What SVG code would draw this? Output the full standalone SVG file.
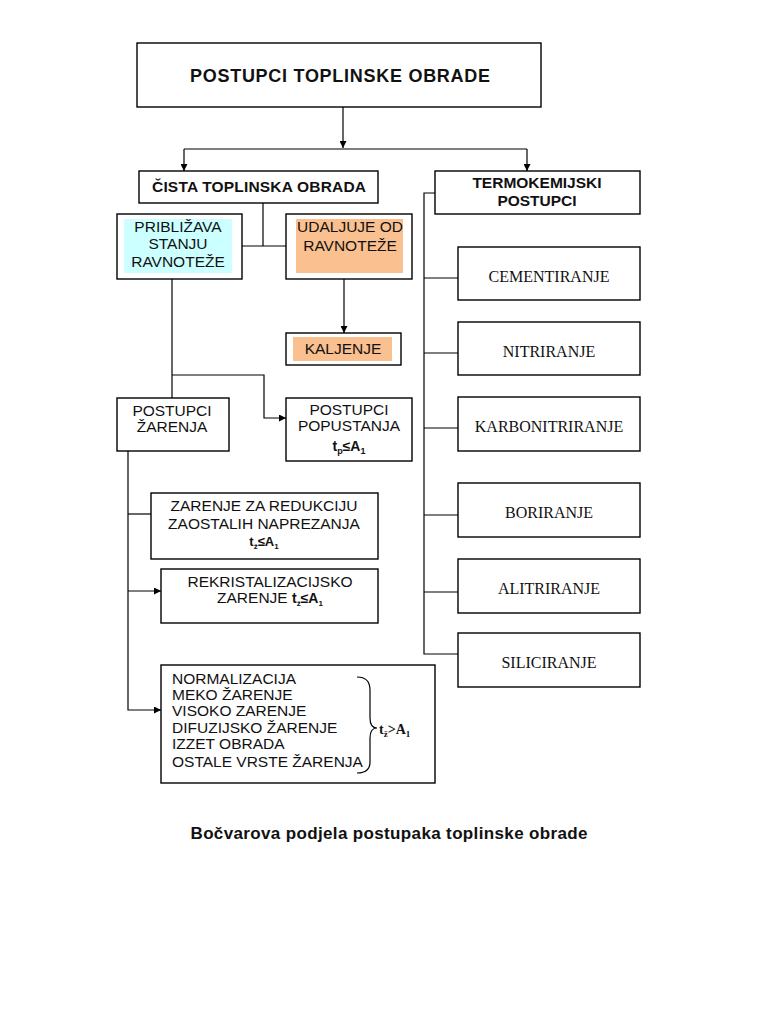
<svg xmlns="http://www.w3.org/2000/svg" width="768" height="1024" viewBox="0 0 768 1024">
<defs>
<marker id="arr" viewBox="0 0 10 10" refX="10" refY="5" markerWidth="7" markerHeight="7" markerUnits="userSpaceOnUse" orient="auto">
<path d="M0,0 L10,5 L0,10 z" fill="#000"/>
</marker>
<style>
.box{fill:#fff;stroke:#000;stroke-width:1.4}
.ln{fill:none;stroke:#000;stroke-width:1.2}
.sans{font-family:"Liberation Sans",Arial,sans-serif;fill:#111}
.c{text-anchor:middle}
.b{font-weight:bold}
.t15{font-size:15.5px}
.serif{font-family:"Liberation Serif","Times New Roman",serif;font-size:16px;fill:#111;text-anchor:middle}
</style>
</defs>
<rect width="768" height="1024" fill="#fff"/>

<g id="connectors">
<line class="ln" x1="343" y1="107" x2="343" y2="148" marker-end="url(#arr)"/>
<line class="ln" x1="184" y1="149" x2="527" y2="149"/>
<line class="ln" x1="184" y1="149" x2="184" y2="171" marker-end="url(#arr)"/>
<line class="ln" x1="527" y1="149" x2="527" y2="171" marker-end="url(#arr)"/>
<line class="ln" x1="263" y1="203" x2="263" y2="246"/>
<line class="ln" x1="242" y1="246" x2="286" y2="246"/>
<line class="ln" x1="344" y1="279" x2="344" y2="333" marker-end="url(#arr)"/>
<line class="ln" x1="172" y1="279" x2="172" y2="398"/>
<polyline class="ln" points="172,375 264,375 264,418 286,418" marker-end="url(#arr)"/>
<polyline class="ln" points="128,451 128,710 161,710" marker-end="url(#arr)"/>
<line class="ln" x1="128" y1="514" x2="151" y2="514"/>
<line class="ln" x1="128" y1="591" x2="161" y2="591" marker-end="url(#arr)"/>
<polyline class="ln" points="435,193 424,193 424,654 458,654"/>
<line class="ln" x1="424" y1="278" x2="458" y2="278"/>
<line class="ln" x1="424" y1="353" x2="458" y2="353"/>
<line class="ln" x1="424" y1="428" x2="458" y2="428"/>
<line class="ln" x1="424" y1="515" x2="458" y2="515"/>
<line class="ln" x1="424" y1="592" x2="458" y2="592"/>
</g>

<g id="n-root">
<rect class="box" x="137" y="43" width="404" height="64"/>
<text class="sans c b" x="340" y="82" font-size="18" textLength="300" lengthAdjust="spacing">POSTUPCI TOPLINSKE OBRADE</text>
</g>

<g id="n-cista">
<rect class="box" x="139" y="171" width="239" height="32"/>
<text class="sans c b t15" x="259" y="192" textLength="214" lengthAdjust="spacing">ČISTA TOPLINSKA OBRADA</text>
</g>

<g id="n-termo">
<rect class="box" x="435" y="171" width="205" height="43"/>
<text class="sans c b t15" x="537" y="188">TERMOKEMIJSKI</text>
<text class="sans c b t15" x="537" y="206">POSTUPCI</text>
</g>

<g id="n-priblizava">
<rect class="box" x="117" y="214" width="125" height="65"/>
<rect x="124" y="219" width="108" height="54" fill="#ccffff"/>
<text class="sans c t15" x="178" y="232">PRIBLIŽAVA</text>
<text class="sans c t15" x="178" y="249">STANJU</text>
<text class="sans c t15" x="178" y="267">RAVNOTEŽE</text>
</g>

<g id="n-udaljuje">
<rect class="box" x="286" y="214" width="126" height="65"/>
<rect x="296" y="219" width="107" height="54" fill="#fac090"/>
<text class="sans c t15" x="350" y="232">UDALJUJE OD</text>
<text class="sans c t15" x="350" y="251">RAVNOTEŽE</text>
</g>

<g id="n-kaljenje">
<rect class="box" x="286" y="333" width="115" height="32"/>
<rect x="293" y="337" width="99" height="24" fill="#fac090"/>
<text class="sans c t15" x="343" y="354">KALJENJE</text>
</g>

<g id="n-zarenja">
<rect class="box" x="117" y="398" width="112" height="53"/>
<text class="sans c t15" x="172" y="416">POSTUPCI</text>
<text class="sans c t15" x="172" y="432">ŽARENJA</text>
</g>

<g id="n-popustanja">
<rect class="box" x="286" y="398" width="126" height="63"/>
<text class="sans c t15" x="349" y="415">POSTUPCI</text>
<text class="sans c t15" x="349" y="431">POPUSTANJA</text>
<text class="sans c b" x="349" y="451" font-size="14">t<tspan font-size="9" dy="3">p</tspan><tspan dy="-3">≤A</tspan><tspan font-size="9" dy="3">1</tspan></text>
</g>

<g id="n-redukcija">
<rect class="box" x="151" y="493" width="227" height="66"/>
<text class="sans c t15" x="264" y="511">ZARENJE ZA REDUKCIJU</text>
<text class="sans c t15" x="264" y="529">ZAOSTALIH NAPREZANJA</text>
<text class="sans c b" x="264" y="546" font-size="13">t<tspan font-size="8" dy="3">ž</tspan><tspan dy="-3">≤A</tspan><tspan font-size="8" dy="3">1</tspan></text>
</g>

<g id="n-rekristal">
<rect class="box" x="161" y="569" width="217" height="54"/>
<text class="sans c t15" x="270" y="587">REKRISTALIZACIJSKO</text>
<text class="sans c t15" x="270" y="603">ZARENJE <tspan class="b" font-size="14">t</tspan><tspan class="b" font-size="8" dy="3">ž</tspan><tspan class="b" font-size="14" dy="-3">≤A</tspan><tspan class="b" font-size="8" dy="3">1</tspan></text>
</g>

<g id="n-ostalo">
<rect class="box" x="161" y="665" width="274" height="118"/>
<text class="sans t15" x="172" y="684">NORMALIZACIJA</text>
<text class="sans t15" x="172" y="700">MEKO ŽARENJE</text>
<text class="sans t15" x="172" y="716">VISOKO ZARENJE</text>
<text class="sans t15" x="172" y="733">DIFUZIJSKO ŽARENJE</text>
<text class="sans t15" x="172" y="749">IZZET OBRADA</text>
<text class="sans t15" x="172" y="767">OSTALE VRSTE ŽARENJA</text>
<path class="ln" d="M357,677 Q370,677 370,690 L370,718 Q370,728 377,728 Q370,728 370,738 L370,762 Q370,773 357,773"/>
<text x="379" y="734" font-family="Liberation Serif,'Times New Roman',serif" font-weight="bold" font-size="14" fill="#111">t<tspan font-size="9" dy="3">ž</tspan><tspan dy="-3">&gt;A</tspan><tspan font-size="9" dy="3">1</tspan></text>
</g>

<g id="n-cement">
<rect class="box" x="458" y="247" width="182" height="53"/>
<text class="serif" x="549" y="282">CEMENTIRANJE</text>
</g>
<g id="n-nitr">
<rect class="box" x="458" y="322" width="182" height="53"/>
<text class="serif" x="549" y="357">NITRIRANJE</text>
</g>
<g id="n-karbo">
<rect class="box" x="458" y="397" width="182" height="54"/>
<text class="serif" x="549" y="432">KARBONITRIRANJE</text>
</g>
<g id="n-bor">
<rect class="box" x="458" y="483" width="182" height="54"/>
<text class="serif" x="549" y="518">BORIRANJE</text>
</g>
<g id="n-alitr">
<rect class="box" x="458" y="559" width="182" height="54"/>
<text class="serif" x="549" y="594">ALITRIRANJE</text>
</g>
<g id="n-silic">
<rect class="box" x="458" y="633" width="182" height="54"/>
<text class="serif" x="549" y="668">SILICIRANJE</text>
</g>

<g id="caption">
<text class="sans c b" x="389" y="839" font-size="17" textLength="397" lengthAdjust="spacing">Bočvarova podjela postupaka toplinske obrade</text>
</g>
</svg>
